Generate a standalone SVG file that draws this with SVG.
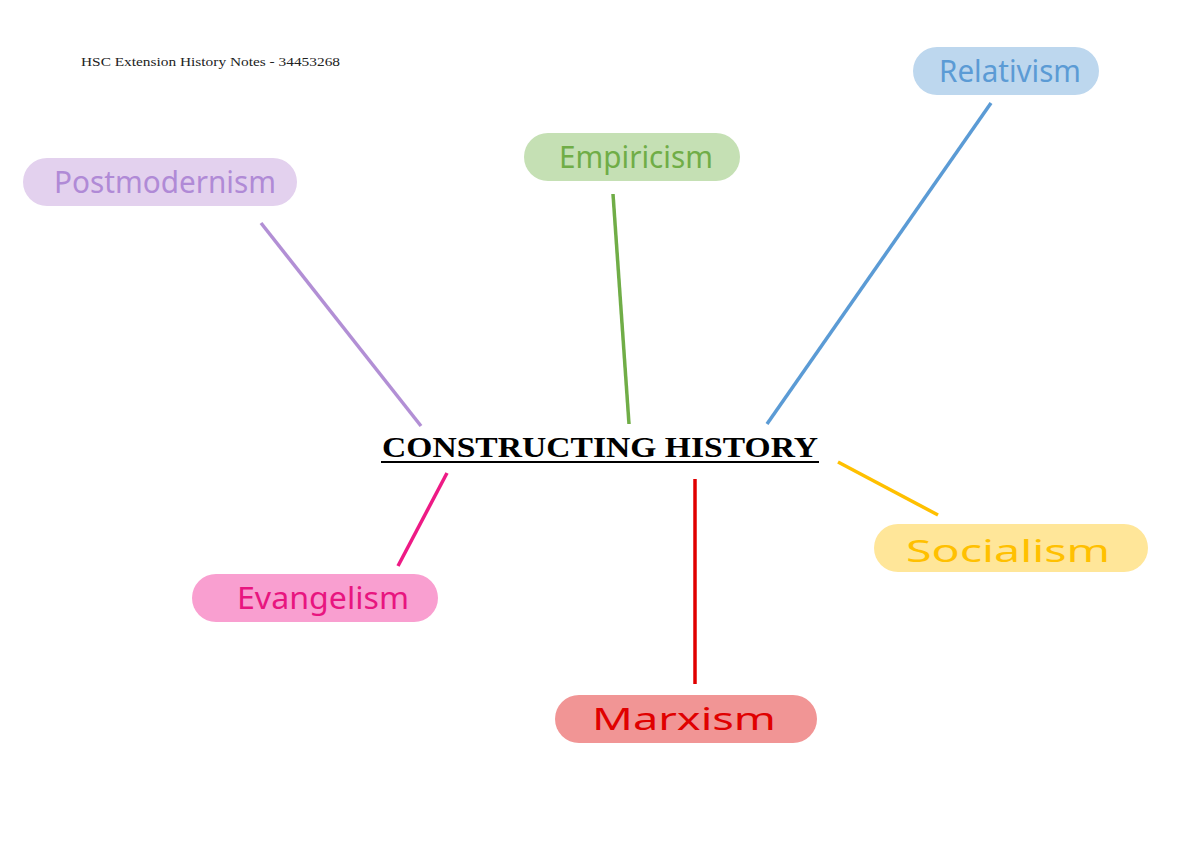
<svg xmlns="http://www.w3.org/2000/svg" width="1200" height="849" viewBox="0 0 1200 849">
<style>
.pill{stroke:none}
.lbl{font-family:"Noto Sans","DejaVu Sans",sans-serif;font-size:30px;text-anchor:middle}
.ln{stroke-width:3.5;stroke-linecap:butt;fill:none}
</style>
<rect width="1200" height="849" fill="#ffffff"/>
<text x="81" y="66" font-family="Liberation Serif,serif" font-size="13" textLength="259" lengthAdjust="spacingAndGlyphs" fill="#222">HSC Extension History Notes - 34453268</text>
<g id="connectors">
<line class="ln" x1="261" y1="223" x2="421" y2="426" stroke="#b28fd5"/>
<line class="ln" x1="613" y1="194" x2="629" y2="424" stroke="#70ad47"/>
<line class="ln" x1="991" y1="103" x2="767" y2="424" stroke="#5b9bd5"/>
<line class="ln" x1="838" y1="462" x2="938" y2="515" stroke="#ffc000"/>
<line class="ln" x1="447" y1="473" x2="398" y2="566" stroke="#ee1a85"/>
<line class="ln" x1="695" y1="479" x2="695" y2="684" stroke="#e00000"/>
</g>
<g id="center">
<text x="600" y="457" font-family="Liberation Serif,serif" font-weight="bold" font-size="29" text-anchor="middle" textLength="436" lengthAdjust="spacingAndGlyphs" fill="#000">CONSTRUCTING HISTORY</text>
<rect x="381" y="461" width="438" height="2" fill="#000"/>
</g>
<g id="postmodernism">
<rect class="pill" x="23" y="158" width="274" height="48" rx="24" fill="#e3d1ee"/>
<text class="lbl" x="165" y="193" fill="#b08ad6" textLength="222" lengthAdjust="spacingAndGlyphs">Postmodernism</text>
</g>
<g id="empiricism">
<rect class="pill" x="524" y="133" width="216" height="48" rx="24" fill="#c5e0b4"/>
<text class="lbl" x="636" y="168" fill="#70ad47" textLength="154" lengthAdjust="spacingAndGlyphs">Empiricism</text>
</g>
<g id="relativism">
<rect class="pill" x="913" y="47" width="186" height="48" rx="24" fill="#bdd7ee"/>
<text class="lbl" x="1010" y="82" fill="#5b9bd5" textLength="142" lengthAdjust="spacingAndGlyphs">Relativism</text>
</g>
<g id="socialism">
<rect class="pill" x="874" y="524" width="274" height="48" rx="24" fill="#ffe699"/>
<text class="lbl" x="1008" y="562" fill="#ffc000" font-size="36" textLength="204" lengthAdjust="spacingAndGlyphs">Socialism</text>
</g>
<g id="evangelism">
<rect class="pill" x="192" y="574" width="246" height="48" rx="24" fill="#f99fd0"/>
<text class="lbl" x="323" y="609" fill="#e8157f" textLength="172" lengthAdjust="spacingAndGlyphs">Evangelism</text>
</g>
<g id="marxism">
<rect class="pill" x="555" y="695" width="262" height="48" rx="24" fill="#f19595"/>
<text class="lbl" x="684" y="730" fill="#e00000" font-size="34" textLength="184" lengthAdjust="spacingAndGlyphs">Marxism</text>
</g>
</svg>
